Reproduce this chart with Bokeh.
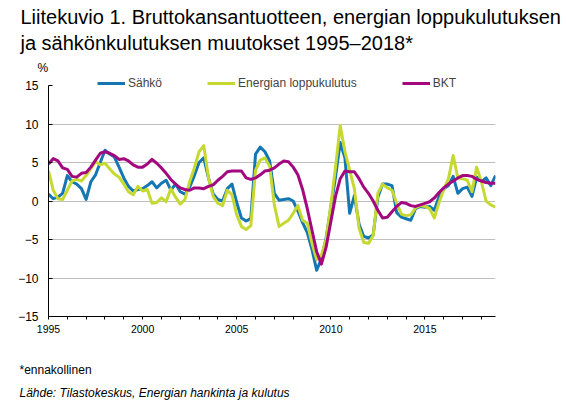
from bokeh.plotting import figure
from bokeh.models import Range1d, FixedTicker, Legend, LegendItem, Title
from bokeh.embed import file_html
from bokeh.resources import INLINE

# Neljännesvuosittaiset muutokset (%), 1995Q1 - 2018Q4, luettu kuvasta
alkuvuosi = 1995

sahko = [0.9, 0.3, 0.5, 1.0, 3.3, 2.5, 2.2, 1.6, 0.2, 2.5,
         3.4, 5.0, 6.6, 6.1, 5.7, 4.4, 3.0, 1.9, 1.3, 1.5,
         1.6, 2.0, 2.5, 1.7, 2.3, 2.7, 1.4, 2.2, 1.2, 0.9,
         1.8, 3.3, 5.0, 5.6, 3.0, 0.9, 0.2, 0.0, 1.6, 2.2,
         -0.2, -2.2, -2.6, -2.3, 6.1, 7.0, 6.4, 5.2, 1.0, 0.1,
         0.2, 0.3, 0.0, -1.3, -2.8, -4.1, -6.3, -9.0, -7.5, -4.8,
         -0.8, 3.1, 7.6, 5.6, -1.6, 0.7, -3.0, -4.6, -4.8, -4.4,
         0.5, 2.2, 2.2, 2.0, -1.5, -2.1, -2.3, -2.5, -1.0, -0.7,
         -0.8, -0.7, -1.2, 0.6, 1.6, 2.0, 3.2, 1.0, 1.6, 1.8,
         0.6, 3.1, 2.5, 3.0, 2.0, 3.3]

energia = [3.9, 1.4, 0.3, 0.2, 1.4, 2.6, 2.8, 2.6, 3.3, 4.2,
           5.1, 4.7, 4.9, 4.2, 3.5, 3.1, 2.2, 1.2, 0.8, 1.9,
           1.3, 1.5, -0.3, -0.2, 0.4, -0.1, 1.6, 0.5, -0.4, 0.2,
           2.5, 4.3, 6.4, 7.2, 3.0, 0.6, -0.3, -0.6, 1.4, 0.8,
           -1.8, -3.3, -3.7, -3.2, 4.0, 5.3, 5.6, 4.5, -0.5, -3.3,
           -2.9, -2.5, -1.6, -0.6, -2.5, -2.9, -5.5, -7.6, -7.0, -5.0,
           -0.5, 4.4, 9.8, 6.4, 4.0, 1.6, -3.5, -5.4, -5.5, -4.5,
           1.0, 2.2, 1.7, 1.4, -0.3, -1.7, -1.9, -1.8, -0.9, -0.6,
           -0.7, -1.0, -2.2, -0.2, 1.5, 2.9, 5.9, 3.0, 2.9, 2.7,
           1.2, 4.4, 2.5, 0.0, -0.5, -0.8]

bkt = [4.8, 5.5, 5.2, 4.3, 4.1, 3.2, 3.1, 3.6, 3.7, 4.4,
       5.3, 6.2, 6.4, 6.2, 5.9, 5.4, 5.5, 5.2, 4.7, 4.4,
       4.4, 4.8, 5.4, 4.9, 4.3, 3.6, 2.8, 2.2, 1.7, 1.5,
       1.4, 1.7, 1.7, 1.6, 1.9, 2.1, 2.7, 3.2, 3.8, 3.9,
       3.9, 3.9, 3.0, 2.8, 3.0, 3.4, 3.9, 4.0, 4.3, 4.8,
       5.2, 5.1, 4.4, 3.4, 1.5, -1.0, -3.8, -6.6, -8.2, -6.0,
       -2.7, 0.6, 2.9, 3.9, 3.8, 3.8, 2.9, 1.8, 1.0, 0.0,
       -1.2, -2.2, -2.1, -1.4, -0.7, -0.2, -0.3, -0.6, -0.7, -0.5,
       -0.3, -0.1, 0.4, 1.1, 1.7, 2.2, 2.6, 3.0, 3.3, 3.3,
       3.2, 2.8, 2.6, 2.4, 2.3, 2.3]

vuodet = list(range(1995, 2019))
y_ticks = [-15, -10, -5, 0, 5, 10, 15]
y_grid = [-10, -5, 0, 5, 10]

x = [alkuvuosi + i / 4 for i in range(len(bkt))]

FONT = "Liberation Sans"

# y-alue hieman yli 15:n, jotta selite mahtuu kehykseen; akseliviiva rajataan 15:een
p = figure(width=566, height=403, output_backend="svg", toolbar_location=None,
           x_range=Range1d(1995, 2018.75), y_range=Range1d(-15, 16.43),
           min_border_left=48, min_border_right=71, min_border_top=74, min_border_bottom=87)
p.outline_line_color = None
p.background_fill_color = "white"

p.xgrid.visible = False
p.ygrid.ticker = FixedTicker(ticks=y_grid)
p.ygrid.grid_line_color = "#bfbfbf"
p.ygrid.grid_line_width = 1

p.xaxis.ticker = FixedTicker(ticks=vuodet)
p.xaxis.major_label_overrides = {v: (str(v) if v % 5 == 0 else "") for v in vuodet}
p.xaxis.major_tick_in = 0
p.xaxis.major_tick_out = 3
p.xaxis.minor_tick_line_color = None
p.xaxis.axis_line_color = "black"
p.xaxis.major_tick_line_color = "black"
p.xaxis.major_label_text_font = FONT
p.xaxis.major_label_text_font_size = "10.5px"
p.xaxis.major_label_text_color = "black"
p.xaxis.major_label_standoff = 5

p.yaxis.ticker = FixedTicker(ticks=y_ticks)
p.yaxis.bounds = (-15, 15)
p.yaxis.major_tick_in = 4
p.yaxis.major_tick_out = 0
p.yaxis.minor_tick_line_color = None
p.yaxis.axis_line_color = "black"
p.yaxis.major_tick_line_color = "black"
p.yaxis.major_label_text_font = FONT
p.yaxis.major_label_text_font_size = "12px"
p.yaxis.major_label_text_color = "black"
p.yaxis.major_label_standoff = 10

r_sahko = p.line(x, sahko, line_color="#1476b3", line_width=3, line_join="round")
r_energia = p.line(x, energia, line_color="#c5d932", line_width=3, line_join="round")
r_bkt = p.line(x, bkt, line_color="#a3087f", line_width=3, line_join="round")

legend = Legend(items=[LegendItem(label="Sähkö", renderers=[r_sahko]),
                       LegendItem(label="Energian loppukulutus", renderers=[r_energia]),
                       LegendItem(label="BKT", renderers=[r_bkt])],
                orientation="horizontal", location=(49, 226),
                glyph_width=28, glyph_height=12, label_height=12,
                label_standoff=3, spacing=45, padding=0, margin=0,
                label_text_font=FONT, label_text_font_size="12px",
                border_line_color=None, background_fill_alpha=0)
p.add_layout(legend, "center")

p.add_layout(Title(text="%", align="left", offset=-11, standoff=0,
                   text_font=FONT, text_font_size="12px", text_font_style="normal",
                   text_color="black"), "above")
p.add_layout(Title(text="Liitekuvio 1. Bruttokansantuotteen, energian loppukulutuksen\n"
                        "ja sähkönkulutuksen muutokset 1995–2018*",
                   align="left", offset=-28, standoff=8, text_line_height=1.2,
                   text_font=FONT, text_font_size="20px", text_font_style="normal",
                   text_color="black"), "above")

# tyhjä väli akselin ja huomautusten välissä
p.add_layout(Title(text=" ", align="left", standoff=3,
                   text_font=FONT, text_font_size="12px"), "below")
p.add_layout(Title(text="*ennakollinen", align="left", offset=-29, standoff=13,
                   text_font=FONT, text_font_size="12px", text_font_style="normal",
                   text_color="black"), "below")
p.add_layout(Title(text="Lähde: Tilastokeskus, Energian hankinta ja kulutus",
                   align="left", offset=-29, standoff=0,
                   text_font=FONT, text_font_size="12px", text_font_style="italic",
                   text_color="black"), "below")

open("out.html", "w").write(file_html(p, INLINE))
